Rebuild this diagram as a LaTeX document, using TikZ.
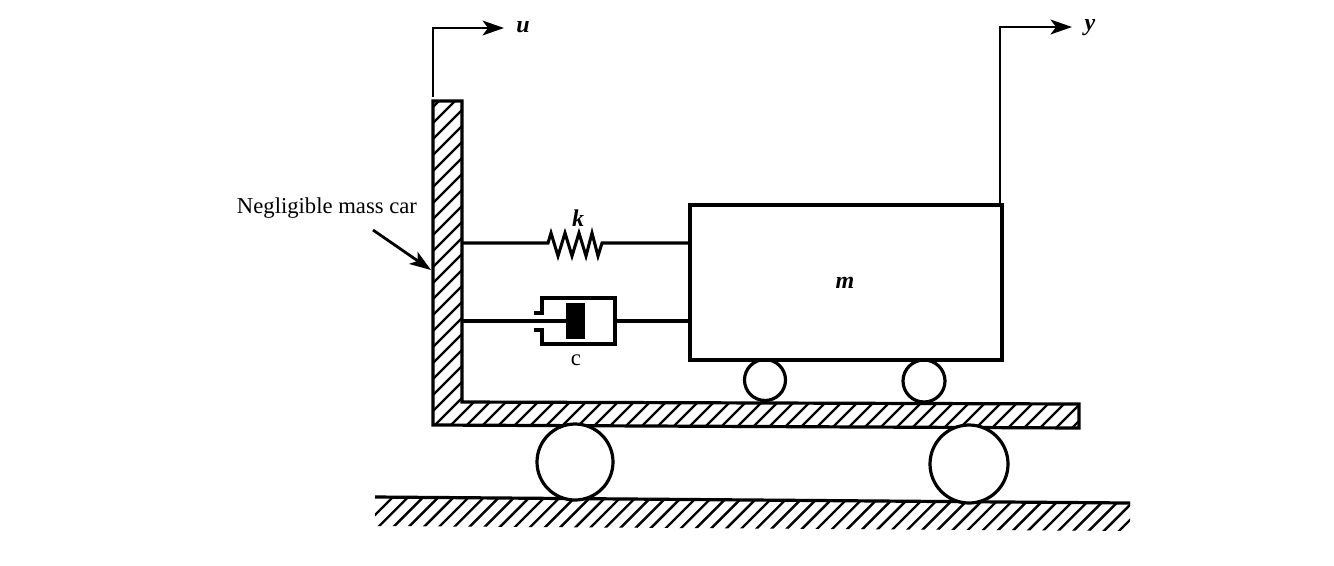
\documentclass[tikz,border=0pt]{standalone}
\usepackage{fontspec}
\setmainfont{Liberation Serif}
\usetikzlibrary{arrows.meta}
\tikzset{
  ln/.style={line width=2.4pt,line cap=butt,line join=miter},
  thin ln/.style={line width=2.3pt,line join=miter},
  hatch/.style={line width=1.8pt},
  wheel/.style={circle,draw,line width=2.4pt,inner sep=0pt,fill=white},
  arr/.style={line width=2.1pt,-{Stealth[length=16pt,width=11pt,inset=4pt]}},
  lbl/.style={inner sep=0pt,font=\fontsize{18}{20}\selectfont\bfseries\itshape},
  txt/.style={inner sep=0pt,font=\fontsize{17}{19}\selectfont}
}
\begin{document}
\begin{tikzpicture}[x=0.75pt,y=-0.75pt]
\useasboundingbox (0,0) rectangle (1334,565);
% car hatching
\begin{scope}
\clip (433,101) -- (462,101) -- (462,402) -- (1079,404) -- (1079,428) -- (433,425) -- cycle;
\foreach \i in {-22,...,44}
  \draw[hatch] ({420+16*\i},440) -- ++(360,-360);
\end{scope}
\draw[ln] (433,101) -- (462,101) -- (462,402) -- (1079,404) -- (1079,428) -- (433,425) -- cycle;
% ground
\begin{scope}
\clip (375,497) -- (1130,503) -- (1130,531) -- (375,526) -- cycle;
\foreach \i in {0,...,52}
  \draw[hatch] ({350+15.2*\i},540) -- ++(50,-50);
\end{scope}
\draw[ln] (375,497) -- (1130,503);
% wheels
\node[wheel,minimum size=76*0.75pt] (w1) at (575,462) {};
\node[wheel,minimum size=78*0.75pt] (w2) at (969,464) {};
\node[wheel,minimum size=41*0.75pt] (w3) at (765,380) {};
\node[wheel,minimum size=42*0.75pt] (w4) at (924,381) {};
% mass
\node[draw,ln,fill=white,inner sep=0pt,minimum width=312*0.75pt,minimum height=155*0.75pt] (mass) at (846,282.5) {};
\node[lbl] (mlab) at (845,283) {m};
% spring
\coordinate (sa) at (462,243);
\coordinate (sb) at (690,243);
\draw[thin ln] (sa) -- (548,243) -- (551,233) -- (558,256) -- (565,233) -- (572,256) -- (579,233) -- (586,256) -- (592,233) -- (598,256) -- (602,243) -- (sb);
\node[lbl] (klab) at (578,218) {k};
% damper
\coordinate (da) at (462,321);
\coordinate (db) at (690,321);
\coordinate (dc) at (615,321);
\node[fill=black,inner sep=0pt,minimum width=19*0.75pt,minimum height=36*0.75pt] (piston) at (575.5,321) {};
\draw[thin ln] (da) -- (piston.west);
\draw[thin ln] (534,313) -- (542,313) -- (542,298) -- (615,298) -- (615,344) -- (542,344) -- (542,330) -- (534,330);
\draw[thin ln] (dc) -- (db);
\node[txt] (clab) at (576,360) {c};
% displacement arrows
\coordinate (ua) at (433,97);
\coordinate (ub) at (433,28);
\coordinate (uc) at (504,28);
\draw[arr] (ua) -- (ub) -- (uc);
\node[lbl] (ulab) at (523,27) {u};
\coordinate (ya) at (1000,205);
\coordinate (yb) at (1000,27);
\coordinate (yc) at (1072,27);
\draw[arr] (ya) -- (yb) -- (yc);
\node[lbl] (ylab) at (1090,28) {y};
% label
\node[txt] (car) at (327,208) {Negligible mass car};
\coordinate (pa) at (373,230);
\coordinate (pb) at (431,270);
\draw[line width=2.1pt,-{Stealth[length=16pt,width=11pt,inset=4pt]}] (pa) -- (pb);
\end{tikzpicture}
\end{document}
